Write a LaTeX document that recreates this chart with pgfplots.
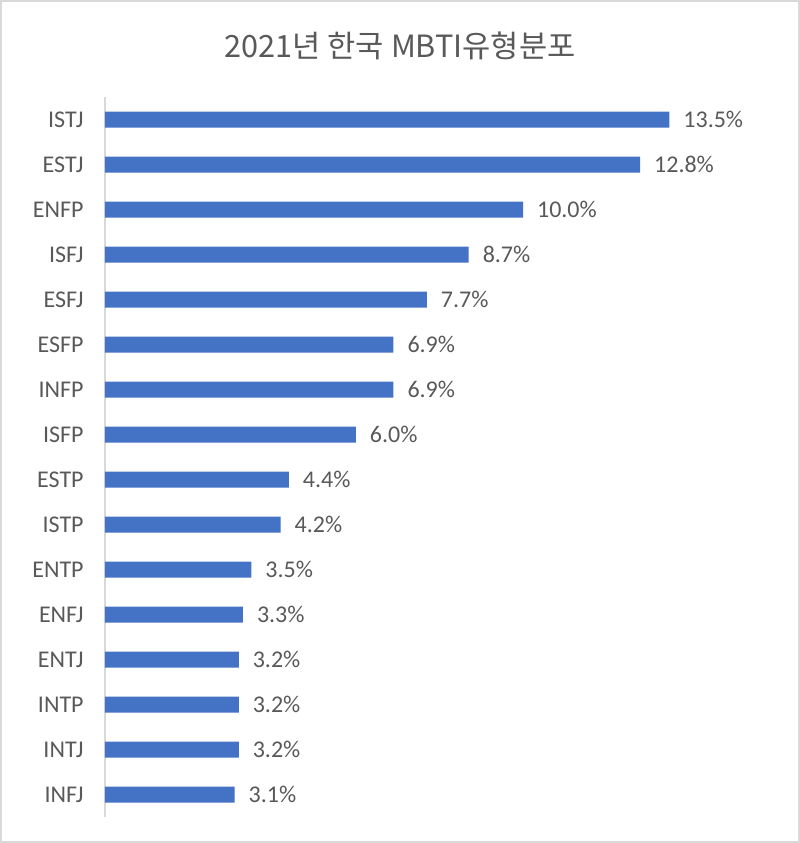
\documentclass[border=0pt]{standalone}
\usepackage{fontspec}
\setmainfont{Carlito}
\newfontfamily\cjk{Noto Sans CJK KR}
\usepackage{pgfplots}
\pgfplotsset{compat=1.18}
\definecolor{barblue}{HTML}{4472C4}
\definecolor{txtgray}{HTML}{595959}
\definecolor{linegray}{HTML}{D9D9D9}

\begin{document}
\begin{tikzpicture}
% chart frame (800x843 px at 0.75pt per px)
\draw[linegray, line width=1.2pt] (0.6pt,0.6pt) rectangle (599.4pt,631.65pt);
\node[txtgray, font=\cjk\fontsize{23}{27}\selectfont] at (300pt,598pt) {2021년 한국 MBTI유형분포};
\begin{axis}[
    at={(78.75pt,19.5pt)}, anchor=south west,
    scale only axis, width=486pt, height=540pt,
    xbar, bar width=12pt,
    xmin=0, xmax=15.5, ymin=-0.5, ymax=15.5,
    y dir=reverse,
    axis x line=none,
    axis y line*=left,
    y axis line style={linegray, line width=0.8pt, -},
    xtick=\empty,
    ytick={0,...,15},
    yticklabels={ISTJ,ESTJ,ENFP,ISFJ,ESFJ,ESFP,INFP,ISFP,ESTP,ISTP,ENTP,ENFJ,ENTJ,INTP,INTJ,INFJ},
    major tick length=0pt,
    yticklabel style={font=\fontsize{18}{21}\selectfont, text=txtgray, xshift=-12.5pt},
    point meta=x,
    nodes near coords={\pgfmathprintnumber[fixed,fixed zerofill,precision=1,assume math mode=true]{\pgfplotspointmeta}\%},
    nodes near coords style={font=\fontsize{18}{21}\selectfont, text=txtgray, xshift=7pt},
    clip=false,
]
\addplot[fill=barblue, draw=none] coordinates {
    (13.5,0) (12.8,1) (10.0,2) (8.7,3) (7.7,4) (6.9,5) (6.9,6) (6.0,7)
    (4.4,8) (4.2,9) (3.5,10) (3.3,11) (3.2,12) (3.2,13) (3.2,14) (3.1,15)
};
\end{axis}
\end{tikzpicture}
\end{document}
